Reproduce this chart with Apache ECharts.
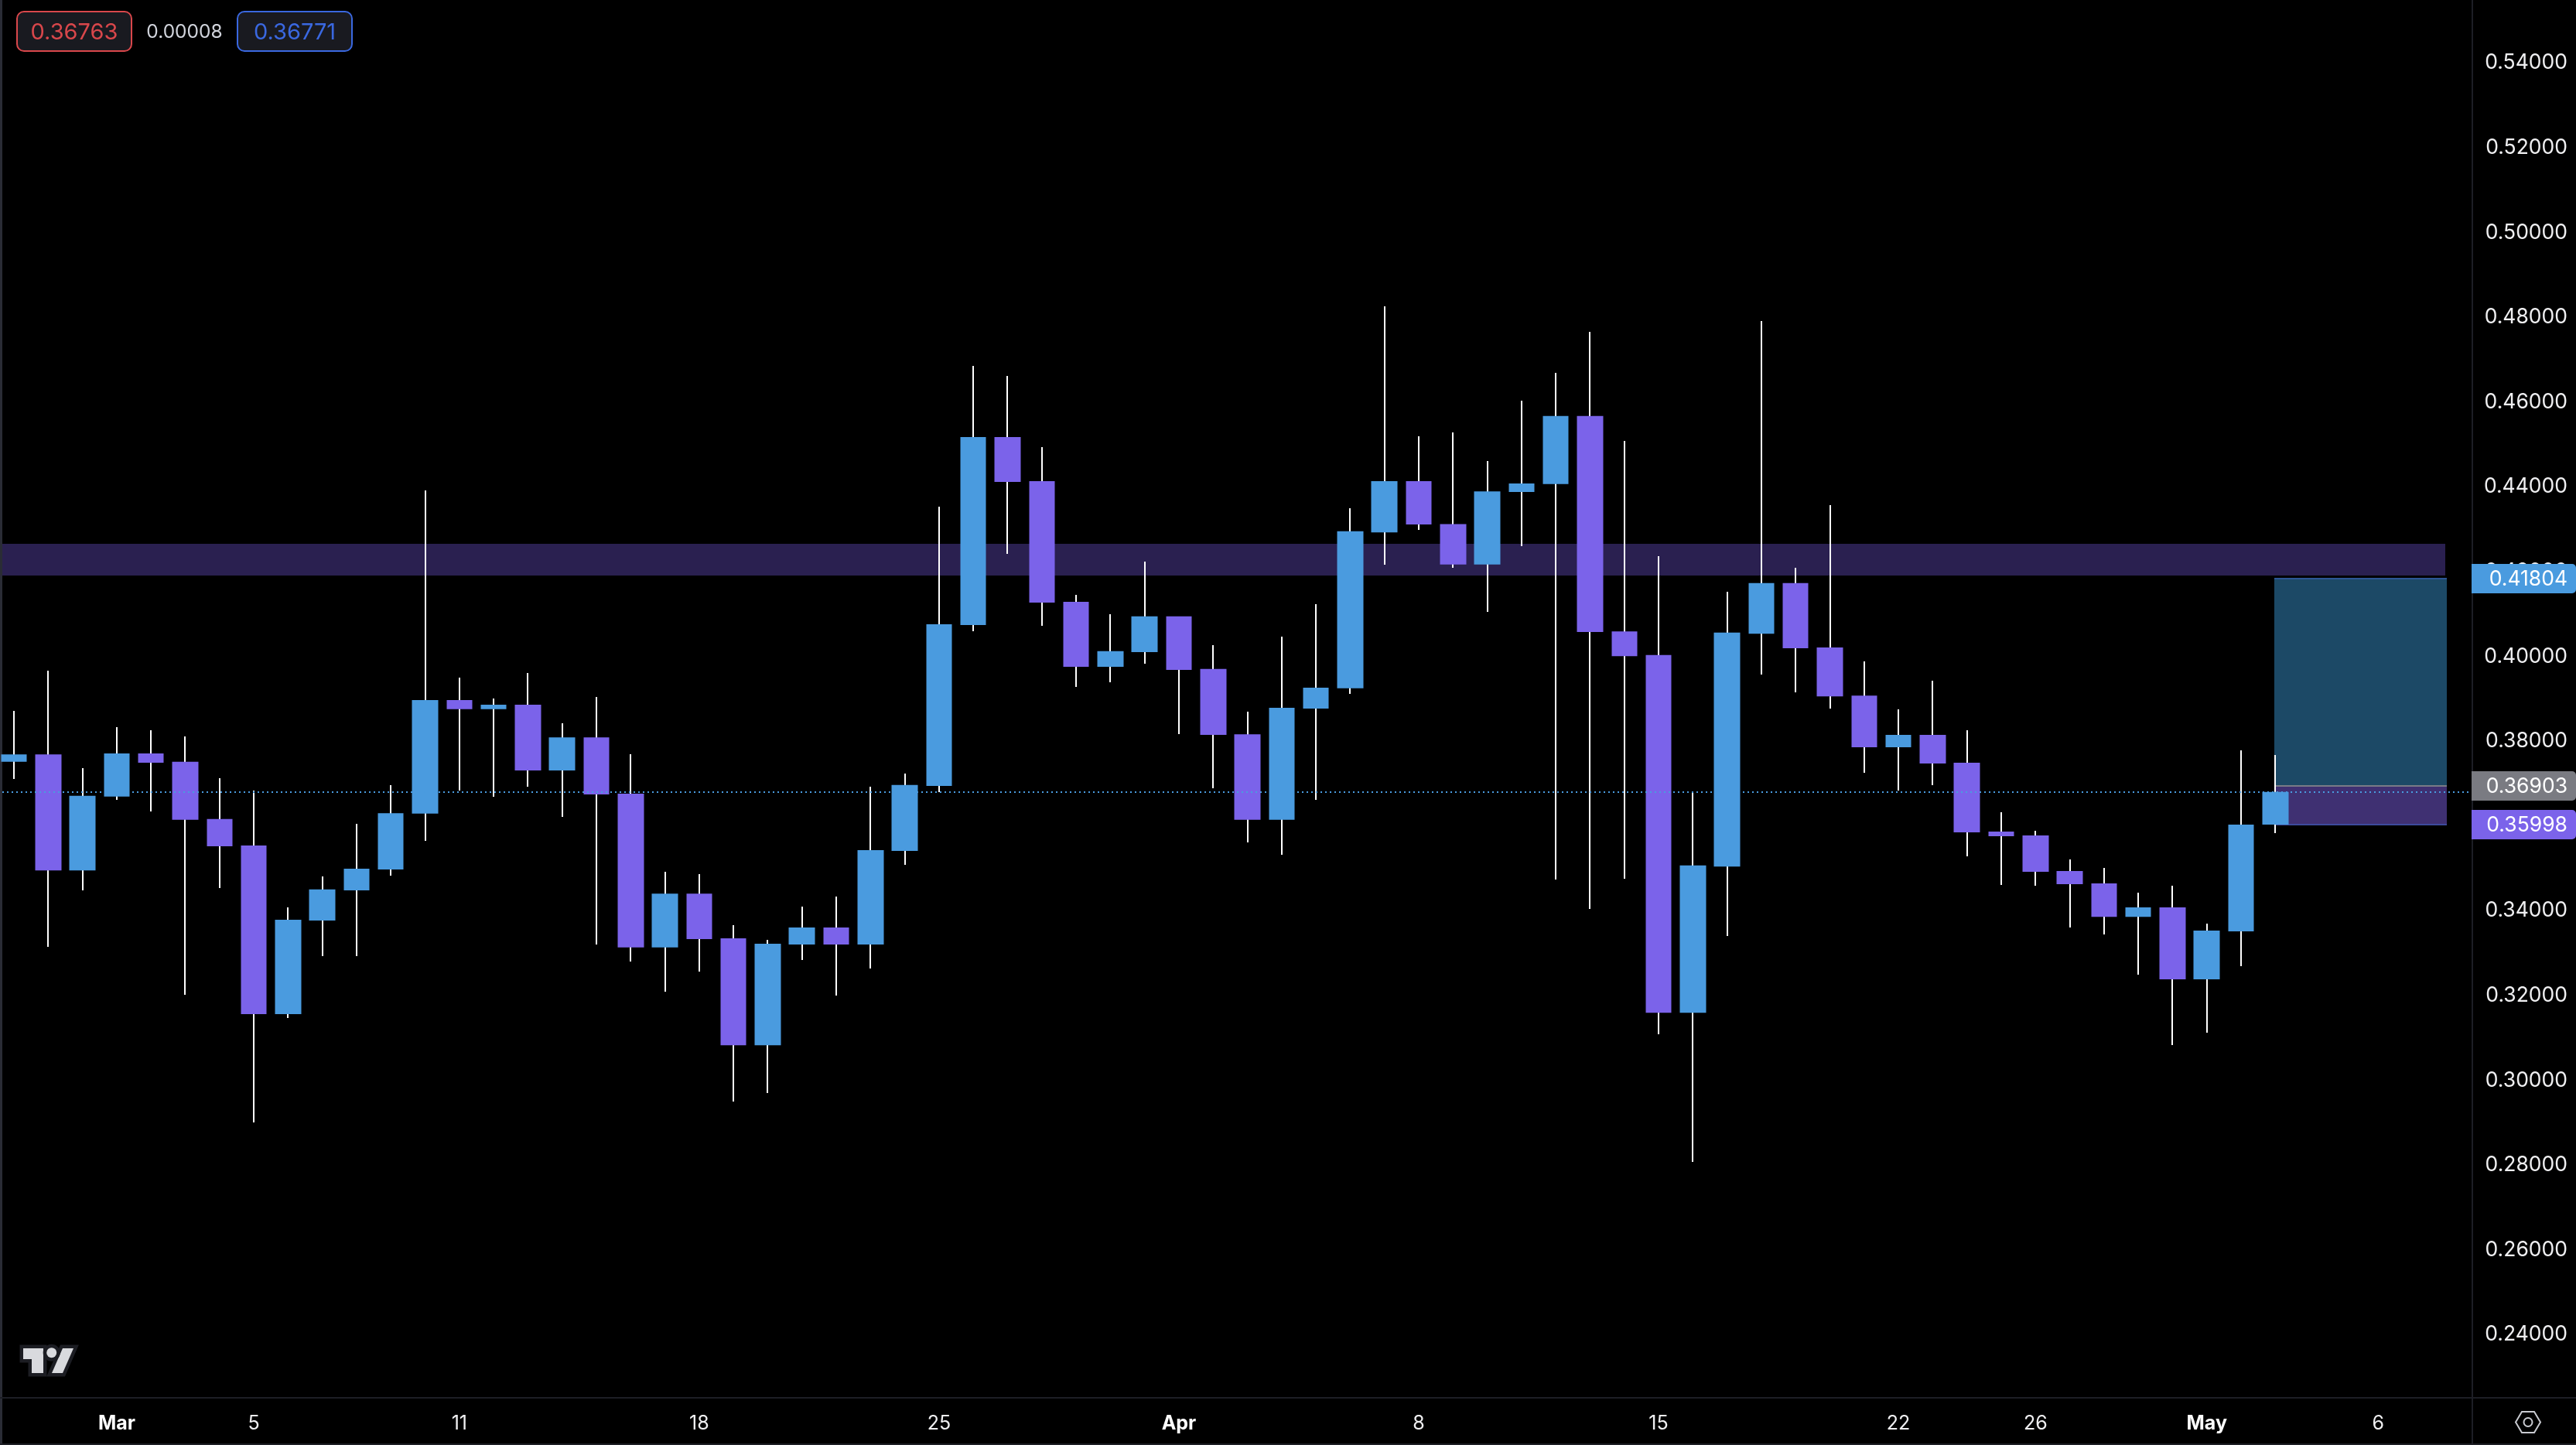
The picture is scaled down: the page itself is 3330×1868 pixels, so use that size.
<!DOCTYPE html>
<html>
<head>
<meta charset="utf-8">
<title>Daily candles</title>
<style>
  html, body { margin: 0; padding: 0; background: #000; }
  #chart { width: 3330px; height: 1868px; }
</style>
<script src="https://cdn.jsdelivr.net/npm/echarts@6/dist/echarts.min.js"></script>
</head>
<body>
<div id="chart"></div>
<script>
// Daily OHLC, one entry per session, first session is index 0.
const opens = [0.37480,0.37655,0.34918,0.36659,0.37675,0.37480,0.36131,0.35505,0.31526,0.33735,0.34449,0.34938,0.36257,0.38936,0.38721,0.38828,0.37274,0.38057,0.36726,0.33100,0.34370,0.33316,0.30794,0.33168,0.33569,0.33168,0.35378,0.36912,0.40706,0.45141,0.44100,0.41254,0.39719,0.40069,0.40911,0.39670,0.38128,0.36111,0.38737,0.39215,0.42891,0.44099,0.43089,0.42135,0.43847,0.44031,0.45637,0.40555,0.39998,0.31560,0.35009,0.40502,0.41695,0.40175,0.39042,0.37821,0.38113,0.37460,0.35832,0.35743,0.34903,0.34611,0.33823,0.34046,0.32347,0.33478,0.35998];
const closes = [0.37655,0.34918,0.36679,0.37675,0.37460,0.36111,0.35485,0.31526,0.33755,0.34469,0.34958,0.36268,0.38936,0.38721,0.38828,0.37274,0.38057,0.36708,0.33100,0.34370,0.33296,0.30794,0.33188,0.33569,0.33168,0.35398,0.36932,0.40724,0.45141,0.44082,0.41235,0.39719,0.40089,0.40911,0.39650,0.38115,0.36111,0.38752,0.39228,0.42918,0.44099,0.43077,0.42135,0.43859,0.44046,0.45637,0.40542,0.39971,0.31560,0.35036,0.40529,0.41695,0.40157,0.39024,0.37821,0.38113,0.37442,0.35814,0.35724,0.34885,0.34593,0.33823,0.34046,0.32347,0.33496,0.36000,0.36771];
const lows   = [0.37078,0.33120,0.34449,0.36580,0.36307,0.31985,0.34498,0.28974,0.31438,0.32894,0.32894,0.34792,0.35613,0.36805,0.36659,0.36892,0.36179,0.33168,0.32768,0.32055,0.32533,0.29464,0.29668,0.32807,0.31965,0.32602,0.35046,0.36766,0.40560,0.42385,0.40688,0.39248,0.39356,0.39796,0.38135,0.36854,0.35580,0.35288,0.36575,0.39082,0.42135,0.42943,0.42055,0.41020,0.42573,0.34704,0.34015,0.34717,0.31055,0.28044,0.33365,0.39536,0.39122,0.38732,0.37221,0.36805,0.36929,0.35248,0.34575,0.34558,0.33568,0.33409,0.32462,0.30799,0.31091,0.32657,0.35796];
const highs  = [0.38682,0.39630,0.37332,0.38301,0.38223,0.38077,0.37089,0.36796,0.34047,0.34772,0.36013,0.36932,0.43883,0.39464,0.38974,0.39571,0.38389,0.39005,0.37655,0.34889,0.34830,0.33628,0.33276,0.34068,0.34303,0.36892,0.37206,0.43498,0.46819,0.46582,0.44903,0.41420,0.40960,0.42201,0.40911,0.40237,0.38659,0.40436,0.41192,0.43462,0.48224,0.45159,0.45252,0.44575,0.45996,0.46659,0.47628,0.45053,0.42334,0.36774,0.41484,0.47878,0.42058,0.43535,0.39847,0.38715,0.39396,0.38228,0.36292,0.35849,0.35177,0.34974,0.34391,0.34558,0.33664,0.37750,0.37644];

// Time axis labels and the session index each one sits on.
const dateTickIndex = [3, 7, 13, 20, 27, 34, 41, 48, 55, 59, 64, 69];
const dateTickLabels = ['Mar', '5', '11', '18', '25', 'Apr', '8', '15', '22', '26', 'May', '6'];
const monthLabels = ['Mar', 'Apr', 'May'];

// Price axis ticks.
const priceTicks = [0.24, 0.26, 0.28, 0.30, 0.32, 0.34, 0.36, 0.38, 0.40, 0.42, 0.44, 0.46, 0.48, 0.50, 0.52, 0.54];

// Horizontal resistance band and the long position drawn on the last session.
const resistanceTop = 0.42617;
const resistanceBottom = 0.41880;
const targetPrice = 0.41804;
const entryPrice = 0.36903;
const stopPrice = 0.35998;
const bidPrice = 0.36763;
const spreadValue = 0.00008;
const askPrice = 0.36771;
const positionStartIndex = 65.97;
const drawingEndIndex = 71;

const BLUE = '#4A9BDF';
const PURPLE = '#7B63EA';
const TEXT = '#EFEFF1';
const FRAME = '#1D1E25';
const FONT = 'Inter, "Noto Sans", sans-serif';

const W = 3330, H = 1868;
const grid = { left: 3, right: 134, top: 0, bottom: 61 };
const xMin = -0.339, xMax = 71.75;
const yMin = 0.22476, yMax = 0.55451;

const sessions = opens.map((_, i) => i);
const candleData = sessions.map(i => [i, opens[i], closes[i], lows[i], highs[i]]);
const wickData = sessions.map(i => [i, lows[i], highs[i]]);

// Filled price zones: [from index, to index, top price, bottom price].
const zoneData = [
  [xMin, drawingEndIndex - 0.04, resistanceTop, resistanceBottom],
  [positionStartIndex, drawingEndIndex, targetPrice, entryPrice],
  [positionStartIndex, drawingEndIndex, entryPrice, stopPrice]
];
const zoneColors = ['#2A2050', '#1C4966', '#3F3072'];

const edgeData = [targetPrice, entryPrice, stopPrice];
const edgeColors = ['#2D5695', '#787B86', '#3D4A9C'];

const chipData = [targetPrice, entryPrice, stopPrice];
const chipColors = [BLUE, '#7A7B82', PURPLE];

const chart = echarts.init(document.getElementById('chart'), null, { renderer: 'canvas' });

function bar(x, y, width, height, fill, z) {
  return { type: 'rect', shape: { x, y, width, height }, style: { fill }, z, silent: true };
}

function headerChip(x, width, price, color) {
  return [
    { type: 'rect', z: 20, shape: { x: x + 1, y: 15, width: width - 2, height: 51, r: 9 },
      style: { fill: '#191A20', stroke: color, lineWidth: 2 } },
    { type: 'text', z: 21, x: x + width / 2, y: 42,
      style: { text: price.toFixed(5), fill: color, font: '29px ' + FONT, textAlign: 'center', textVerticalAlign: 'middle' } }
  ];
}

// The charting-platform mark in the lower left corner.
const logoFill = '#D9DADE', logoEdge = '#1C1D23';
function logoPart(points) {
  return { type: 'polygon', z: 20, shape: { points },
    style: { fill: logoFill, stroke: logoEdge, lineWidth: 9, strokeFirst: true, lineJoin: 'miter' } };
}

const graphics = [
  bar(0, 0, 3, H, '#2A2C35', 1),
  bar(0, 1806, W, 2, FRAME, 1),
  bar(0, 1866, W, 2, FRAME, 1),
  bar(3195, 0, 2, H, FRAME, 1),
  ...headerChip(21, 150, bidPrice, '#D9474B'),
  { type: 'text', z: 21, x: 238.5, y: 42,
    style: { text: spreadValue.toFixed(5), fill: '#D1D4DC', font: '24.5px ' + FONT, textAlign: 'center', textVerticalAlign: 'middle' } },
  ...headerChip(306, 150, askPrice, '#3A68E0'),
  logoPart([[30, 1743], [56, 1743], [56, 1775], [41, 1775], [41, 1757], [30, 1757]]),
  logoPart([[81, 1743], [95, 1743], [81, 1775], [67, 1775]]),
  { type: 'circle', z: 20, shape: { cx: 66.7, cy: 1748.7, r: 6.5 },
    style: { fill: logoFill, stroke: logoEdge, lineWidth: 9, strokeFirst: true } },
  // Settings button in the axis corner.
  { type: 'polygon', z: 20, shape: { points: [[3252, 1838.5], [3260, 1825], [3276, 1825], [3284, 1838.5], [3276, 1852], [3260, 1852]] },
    style: { fill: 'none', stroke: '#C8CAD0', lineWidth: 2 } },
  { type: 'circle', z: 20, shape: { cx: 3268, cy: 1838.5, r: 5.5 },
    style: { fill: 'none', stroke: '#C8CAD0', lineWidth: 2 } }
];

chart.setOption({
  animation: false,
  backgroundColor: '#000',
  textStyle: { fontFamily: FONT },
  grid: grid,
  xAxis: {
    type: 'value', min: xMin, max: xMax, scale: true,
    axisLine: { show: false }, axisTick: { show: false }, splitLine: { show: false },
    axisLabel: {
      customValues: dateTickIndex,
      margin: 21,
      hideOverlap: false,
      color: TEXT,
      fontSize: 25,
      fontFamily: FONT,
      formatter: function (value) {
        const label = dateTickLabels[dateTickIndex.indexOf(value)];
        return monthLabels.includes(label) ? '{month|' + label + '}' : label;
      },
      rich: { month: { fontSize: 25, fontWeight: 700, fontFamily: FONT, color: '#FFFFFF' } }
    }
  },
  yAxis: {
    type: 'value', position: 'right', min: yMin, max: yMax, scale: true,
    axisLine: { show: false }, axisTick: { show: false }, splitLine: { show: false },
    axisLabel: {
      customValues: priceTicks,
      inside: false,
      margin: 123,
      align: 'right',
      verticalAlign: 'top',
      lineHeight: 4,
      color: TEXT,
      fontSize: 26.5,
      fontFamily: FONT,
      formatter: v => v.toFixed(5)
    }
  },
  graphic: graphics,
  series: [
    {
      name: 'zones', type: 'custom', z: 2, silent: true,
      encode: { x: [0, 1], y: [2, 3] },
      data: zoneData,
      renderItem: function (params, api) {
        const a = api.coord([api.value(0), api.value(2)]);
        const b = api.coord([api.value(1), api.value(3)]);
        return { type: 'rect',
          shape: { x: Math.round(a[0]), y: Math.round(a[1]), width: Math.round(b[0]) - Math.round(a[0]), height: Math.round(b[1]) - Math.round(a[1]) },
          style: { fill: zoneColors[params.dataIndex] } };
      }
    },
    {
      name: 'position edges', type: 'custom', z: 3, silent: true,
      encode: { y: 0 },
      data: edgeData.map(v => [v]),
      renderItem: function (params, api) {
        const a = api.coord([positionStartIndex, api.value(0)]);
        const b = api.coord([drawingEndIndex, api.value(0)]);
        return { type: 'rect',
          shape: { x: Math.round(a[0]), y: Math.round(a[1]) - 1, width: Math.round(b[0]) - Math.round(a[0]), height: 2 },
          style: { fill: edgeColors[params.dataIndex] } };
      }
    },
    {
      name: 'wicks', type: 'custom', z: 4, silent: true,
      encode: { x: 0, y: [1, 2] },
      data: wickData,
      renderItem: function (params, api) {
        const low = api.coord([api.value(0), api.value(1)]);
        const high = api.coord([api.value(0), api.value(2)]);
        const x = Math.round(low[0]) - 1;
        return { type: 'rect',
          shape: { x, y: Math.round(high[1]), width: 2, height: Math.round(low[1]) - Math.round(high[1]) },
          style: { fill: '#FFFFFF' } };
      }
    },
    {
      name: 'candles', type: 'candlestick', z: 5, silent: true, clip: true,
      barWidth: 34,
      itemStyle: {
        color: BLUE, color0: PURPLE,
        borderColor: 'rgba(0,0,0,0)', borderColor0: 'rgba(0,0,0,0)',
        borderColorDoji: 'rgba(0,0,0,0)', borderWidth: 0
      },
      data: candleData
    },
    {
      name: 'last price', type: 'custom', z: 6, silent: true,
      encode: { y: 0 },
      data: [[closes[closes.length - 1]]],
      renderItem: function (params, api) {
        const a = api.coord([xMin, api.value(0)]);
        return { type: 'line',
          shape: { x1: Math.round(a[0]), y1: Math.round(a[1]), x2: 3192, y2: Math.round(a[1]) },
          style: { stroke: BLUE, lineWidth: 2, lineDash: [2, 4] } };
      }
    },
    {
      name: 'axis chips', type: 'custom', z: 7, silent: true,
      encode: { y: 0 },
      data: chipData.map(v => [v]),
      renderItem: function (params, api) {
        const y = Math.round(api.coord([xMax, api.value(0)])[1]);
        const x = params.coordSys.x + params.coordSys.width - 1;
        return { type: 'group', children: [
          { type: 'rect', shape: { x, y: y - 19, width: W - x, height: 38, r: [0, 5, 5, 0] },
            style: { fill: chipColors[params.dataIndex] } },
          { type: 'text', x: 3319, y: y + 1,
            style: { text: api.value(0).toFixed(5), fill: '#FFFFFF', font: '26.5px ' + FONT, textAlign: 'right', textVerticalAlign: 'middle' } }
        ] };
      }
    }
  ]
});
</script>
</body>
</html>
